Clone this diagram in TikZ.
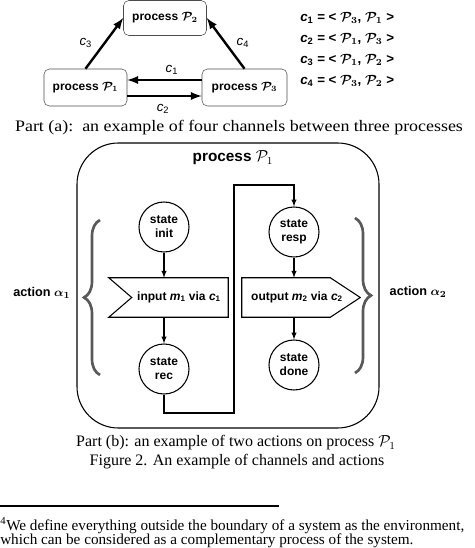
\documentclass[tikz,border=0pt]{standalone}
\usepackage{fontspec}
\setmainfont{Liberation Serif}
\setsansfont{Liberation Sans}
\usetikzlibrary{arrows}
\usetikzlibrary{calc}
\usetikzlibrary{decorations.pathreplacing}

\begin{document}
\begin{tikzpicture}[x=0.75pt,y=-0.75pt,
  diag/.style={font=\fontsize{9}{10.5}\selectfont\sffamily\bfseries\boldmath},
  proc/.style={diag,draw=black!70,rounded corners=4pt,minimum width=62.25pt,minimum height=26.25pt,inner sep=0},
  chan/.style={line width=1.8pt,-latex},
  chanlabel/.style={font=\fontsize{10}{12}\selectfont\sffamily},
  eqn/.style={font=\fontsize{10}{12}\selectfont\sffamily\bfseries\boldmath,anchor=west,inner sep=0},
  statenode/.style={diag,circle,draw,line width=0.8pt,minimum size=37.5pt,inner sep=0,align=center},
  sigbody/.style={minimum width=89.25pt,minimum height=29.25pt,inner sep=0},
  outline/.style={line width=0.8pt},
  flow/.style={line width=0.8pt,-latex},
  brc/.style={decorate,decoration={brace,amplitude=12pt},line width=2pt,black!65},
  captext/.style={font=\fontsize{12}{14}\selectfont}]

  \useasboundingbox (0,0) rectangle (474,548);

  \node[proc] (p2) at (165,18) {process $\mathcal{P}_2$};
  \node[proc,minimum height=27.75pt] (p1) at (85.5,87.5) {process $\mathcal{P}_1$};
  \node[proc,minimum height=27.75pt,minimum width=63.75pt] (p3) at (244.5,87.5) {process $\mathcal{P}_3$};

  \draw[chan] (p1.north) -- (p2.west) node[chanlabel,midway,left=5pt] {{\itshape c}\textsubscript{3}};
  \draw[chan] (p3.north) -- (p2.east) node[chanlabel,midway,right=4pt] {{\itshape c}\textsubscript{4}};
  \draw[chan] ($(p3.west)+(0,-7.5)$) -- ($(p1.east)+(0,-7.5)$) node[chanlabel,pos=0.4,above] {{\itshape c}\textsubscript{1}};
  \draw[chan] ($(p1.east)+(0,8.5)$) -- ($(p3.west)+(0,8.5)$) node[chanlabel,pos=0.48,below=2pt] {{\itshape c}\textsubscript{2}};

  \foreach \i/\a/\b in {1/3/1, 2/1/3, 3/1/2, 4/3/2}
    \node[eqn] (eq\i) at (300,-3+21*\i) {{\itshape c}\textsubscript{\i} = < $\mathcal{P}_\a$, $\mathcal{P}_\b$ >};

  \node[captext] (capa) at (239,128) {\scalebox{1.12}[1]{Part (a):\ \ an example of four channels between three processes}};

  \node[draw,line width=0.8pt,rounded corners=31pt,minimum width=226.5pt,minimum height=213.75pt] (frame) at (228,285.5) {};
  \node[font=\fontsize{11.5}{13}\selectfont\sffamily\bfseries] (title) at (233,158) {process $\mathcal{P}_1$};

  \node[statenode] (init) at (164,227) {state\\init};
  \node[statenode] (resp) at (294,232) {state\\resp};
  \node[sigbody] (in) at (168.5,297.5) {};
  \node[diag] (intext) at (179,297.5) {input {\itshape m}\textsubscript{1} via {\itshape c}\textsubscript{1}};
  \draw[outline] (in.north west) -- (in.north east) -- (in.south east) -- (in.south west) -- ($(in.west)+(23,0)$) -- cycle;
  \node[sigbody,minimum width=88.5pt] (out) at (301,297.5) {};
  \node[diag] (outtext) at (297,297.5) {output {\itshape m}\textsubscript{2} via {\itshape c}\textsubscript{2}};
  \draw[outline] (out.north west) -- ($(out.north east)+(-30,0)$) -- (out.east) -- ($(out.south east)+(-30,0)$) -- (out.south west) -- cycle;
  \node[statenode] (rec) at (164,369) {state\\rec};
  \node[statenode] (done) at (294,365) {state\\done};

  \draw[flow] (init.south) -- (init.south |- in.north);
  \draw[flow] (rec.north |- in.south) -- (rec.north);
  \draw[flow] (resp.south) -- (resp.south |- out.north);
  \draw[flow] (done.north |- out.south) -- (done.north);

  \coordinate (lb) at (234,413);
  \coordinate (lt) at (234,185);
  \draw[flow] (rec.south) |- (lb) -- (lt) -| (resp.north);

  \draw[brc] (100,375) -- (100,220);
  \draw[brc] (355,218) -- (355,373);
  \node[diag,font=\fontsize{9.5}{11}\selectfont\sffamily\bfseries\boldmath,anchor=east] (act1) at (75,293) {action $\alpha_1$};
  \node[diag,font=\fontsize{9.5}{11}\selectfont\sffamily\bfseries\boldmath,anchor=west] (act2) at (385,292) {action $\alpha_2$};

  \node[captext] (capb) at (236,443) {Part (b): an example of two actions on process $\mathcal{P}_1$};
  \node[captext] (fig) at (237,462) {Figure 2. An example of channels and actions};

  \draw[line width=0.8pt] (0,506) -- (279,506);
  \node[captext,font=\fontsize{11.4}{13}\selectfont,anchor=base west,inner sep=0] (fn1) at (0,530) {\textsuperscript{4}We define everything outside the boundary of a system as the environment,};
  \node[captext,font=\fontsize{11.4}{13}\selectfont,anchor=base west,inner sep=0] (fn2) at (0,544) {which can be considered as a complementary process of the system.};
\end{tikzpicture}
\end{document}
